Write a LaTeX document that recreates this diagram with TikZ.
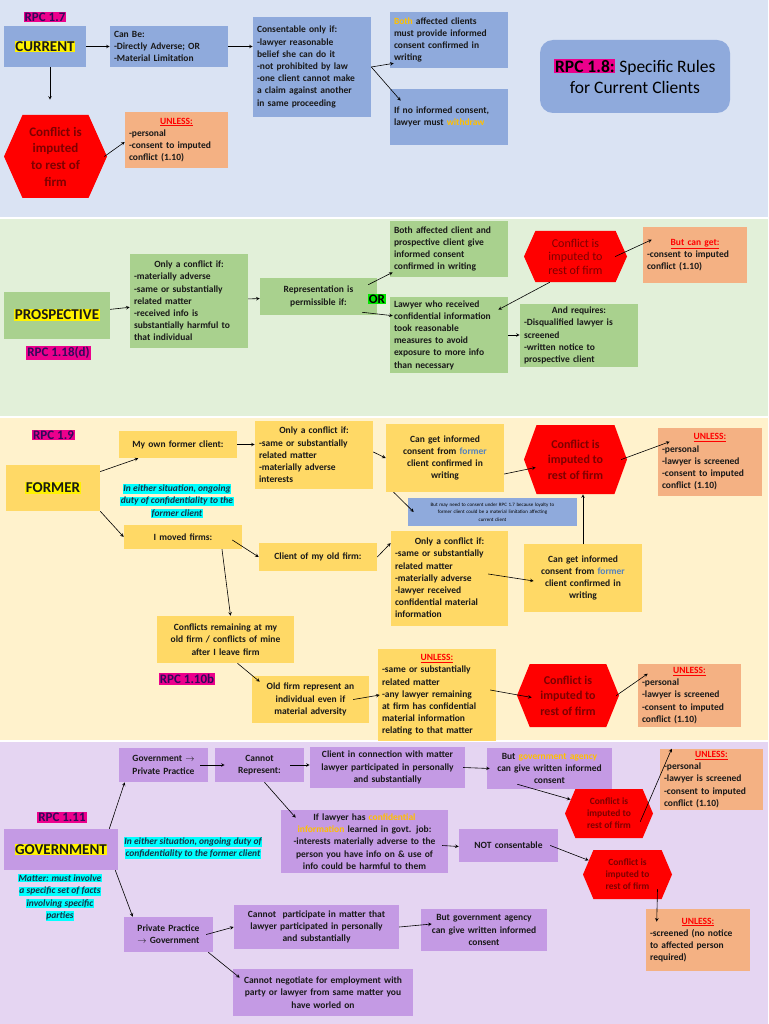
\documentclass[tikz,border=0pt]{standalone}
\usepackage{fontspec}
\setmainfont{Carlito}
\usetikzlibrary{shapes.symbols}
\definecolor{curbg}{RGB}{218,227,243}
\definecolor{curbox}{RGB}{143,170,220}
\definecolor{probg}{RGB}{226,240,217}
\definecolor{probox}{RGB}{169,209,142}
\definecolor{frmbg}{RGB}{255,242,204}
\definecolor{frmbox}{RGB}{255,217,102}
\definecolor{govbg}{RGB}{229,213,242}
\definecolor{govbox}{RGB}{196,154,228}
\definecolor{unlbox}{RGB}{244,177,131}
\definecolor{hexred}{RGB}{125,0,0}
\definecolor{rpcink}{RGB}{50,10,90}
\definecolor{gold}{RGB}{255,192,0}
\definecolor{formerblue}{RGB}{84,130,190}
\definecolor{notecyan}{RGB}{0,255,255}
\definecolor{noteink}{RGB}{20,50,70}
\definecolor{orgreen}{RGB}{0,230,0}
\newcommand\hlc[2]{{\setlength{\fboxsep}{0.6pt}\colorbox{#1}{#2}}}
\newcommand\ctr[1]{\hfill#1\hfill\null}
\newcommand\unl[1]{\textcolor{red}{\underline{#1}}}
\tikzset{
  box/.style={inner xsep=4pt, inner ysep=2pt, align=left, text=black!90,
    font=\bfseries\fontsize{9.5}{12.2}\selectfont},
  cur/.style={box, fill=curbox},
  pro/.style={box, fill=probox},
  frm/.style={box, fill=frmbox},
  gvt/.style={box, fill=govbox},
  unl/.style={box, fill=unlbox},
  hexa/.style={signal, signal to=east and west, signal pointer angle=132,
    fill=red, text=hexred, align=center, inner sep=0pt,
    font=\bfseries\fontsize{12}{15.5}\selectfont},
  rpc/.style={fill=magenta, inner xsep=1pt, inner ysep=1pt, text=rpcink,
    font=\bfseries\fontsize{13}{14}\selectfont},
  title/.style={font=\bfseries\fontsize{15}{16}\selectfont},
  note/.style={align=center, text=noteink, font=\bfseries\itshape\fontsize{9.5}{12.3}\selectfont}
}
\begin{document}
\begin{tikzpicture}[x=1pt, y=-1pt, >=stealth, line cap=round, semithick]
\useasboundingbox (0,0) rectangle (768,1024);
% section backgrounds
\fill[curbg] (0,0) rectangle (768,217);
\fill[probg] (0,219) rectangle (768,416);
\fill[frmbg] (0,418) rectangle (768,740);
\fill[govbg] (0,742) rectangle (768,1024);

% current clients
\node[rpc] (rpc17) at (45,17) {RPC 1.7};
\node[cur, title, align=center, minimum width=82pt, minimum height=41pt] (current) at (45,46.5) {\hlc{yellow}{CURRENT}};
\node[cur, text width=110pt, minimum height=41pt] (canbe) at (169,46.5) {Can Be:\\-Directly Adverse; OR\\-Material Limitation};
\node[cur, text width=110pt, minimum height=100pt] (consent) at (312,67) {Consentable only if:\\-lawyer reasonable\\belief she can do it\\-not prohibited by law\\-one client cannot make\\a claim against another\\in same proceeding};
\node[cur, text width=110pt, minimum height=56pt] (both) at (449,40) {\textcolor{gold}{Both} affected clients\\must provide informed\\consent confirmed in\\writing};
\node[cur, text width=110pt, minimum height=56pt] (noinf) at (449,117) {If no informed consent,\\lawyer must \textcolor{gold}{withdraw}};
\node[fill=curbox, rounded corners=13pt, align=center, minimum width=190pt, minimum height=73pt,
  font=\fontsize{17.5}{21.5}\selectfont] (rpc18) at (635,76.5) {\hlc{magenta}{\textbf{RPC 1.8:}} Specific Rules\\for Current Clients};
\node[hexa, font=\bfseries\fontsize{13}{16.7}\selectfont, minimum width=103pt, minimum height=83pt] (hexc) at (55.5,156.5) {Conflict is\\imputed\\to rest of\\firm};
\node[unl, text width=95pt, minimum height=56pt] (unlc) at (176.5,140) {\ctr{\unl{UNLESS:}}\\-personal\\-consent to imputed\\conflict (1.10)};

\draw[->] (current.east) -- (canbe.west);
\draw[->] (canbe.east) -- (canbe.east -| consent.west);
\draw[->] (consent.east) -- ([xshift=4pt,yshift=5pt]both.south west);
\draw[->] (consent.east) -- ([xshift=11pt,yshift=-12pt]noinf.north west);
\draw[->, shorten >=15pt] ([xshift=5pt]current.south) -- ([xshift=5pt]current.south |- hexc.north);
\draw[->] ([xshift=-3pt]hexc.east) -- ([yshift=-2pt]unlc.west);

% prospective clients
\node[pro, title, align=center, minimum width=106pt, minimum height=47pt] (prosp) at (57,315) {\hlc{yellow}{PROSPECTIVE}};
\node[rpc] (rpc118) at (58.5,353) {RPC 1.18(d)};
\node[pro, text width=110pt, minimum height=94pt] (ponly) at (189,301) {\ctr{Only a conflict if:}\\-materially adverse\\-same or substantially\\related matter\\-received info is\\substantially harmful to\\that individual};
\node[pro, align=center, text width=109pt, minimum height=37pt] (repr) at (318.5,296.5) {Representation is\\permissible if:};
\node[fill=orgreen, inner sep=1pt, font=\bfseries\fontsize{13}{14}\selectfont] (or) at (377,299) {OR};
\node[pro, text width=110pt, minimum height=56pt] (pboth) at (449,249) {Both affected client and\\prospective client give\\informed consent\\confirmed in writing};
\node[pro, text width=110pt, minimum height=76pt] (plaw) at (449,335) {Lawyer who received\\confidential information\\took reasonable\\measures to avoid\\exposure to more info\\than necessary};
\node[hexa, font=\fontsize{12}{13.5}\selectfont, minimum width=103pt, minimum height=51pt] (phex) at (575.5,256.5) {Conflict is\\imputed to\\rest of firm};
\node[unl, text width=96pt, minimum height=56pt] (pcan) at (695,255) {\ctr{\unl{But can get:}}\\-consent to imputed\\conflict (1.10)};
\node[pro, text width=110pt, minimum height=63pt] (preq) at (579,335.5) {\ctr{And requires:}\\-Disqualified lawyer is\\screened\\-written notice to\\prospective client};

\draw[->] (prosp) -- (ponly);
\draw[->] (ponly) -- (repr);
\draw[->] ([xshift=-9pt,yshift=-7pt]repr.north east) -- ([xshift=3pt,yshift=5pt]pboth.south west);
\draw[->] ([xshift=-15pt,yshift=3pt]repr.south east) -- ([xshift=3pt,yshift=-19pt]plaw.north west);
\draw[->] (phex.-135) -- ([xshift=-10pt,yshift=-13pt]plaw.north east);
\draw[->] ([xshift=-12pt]phex.east) -- ([xshift=9pt,yshift=-13pt]pcan.north west);
\draw[->] (plaw.east) -- (plaw.east -| preq.west);

% former clients
\node[rpc] (rpc19) at (53.5,435) {RPC 1.9};
\node[frm, title, align=center, minimum width=94pt, minimum height=46pt] (former) at (53,488) {\hlc{yellow}{FORMER}};
\node[frm, align=center, text width=110pt, minimum height=27pt] (fown) at (178,444.5) {My own former client:};
\node[note] (fnote) at (177,501) {\hlc{notecyan}{In either situation, ongoing}\\\hlc{notecyan}{duty of confidentiality to the}\\\hlc{notecyan}{former client}};
\node[frm, align=center, text width=110pt, minimum height=24pt] (fmoved) at (183,537) {I moved firms:};
\node[frm, text width=110pt, minimum height=68pt] (fonly) at (314,455) {\ctr{Only a conflict if:}\\-same or substantially\\related matter\\-materially adverse\\interests};
\node[frm, align=center, text width=110pt, minimum height=28pt] (fold) at (318,557) {Client of my old firm:};
\node[frm, align=center, text width=110pt, minimum height=68pt] (fcan1) at (445,458) {Can get informed\\consent from \textcolor{formerblue}{former}\\client confirmed in\\writing};
\node[fill=curbox, align=center, text width=165pt, minimum height=28pt, inner sep=2pt,
  font=\fontsize{5}{7.5}\selectfont] (fblue) at (492.5,512) {But may need to consent under RPC 1.7 because loyalty to\\former client could be a material limitation affecting\\current client};
\node[hexa, signal pointer angle=140, minimum width=103pt, minimum height=69pt] (fhex) at (575.5,459.5) {Conflict is\\imputed to\\rest of firm};
\node[unl, text width=96pt, minimum height=68pt] (funl1) at (710,462) {\ctr{\unl{UNLESS:}}\\-personal\\-lawyer is screened\\-consent to imputed\\conflict (1.10)};
\node[frm, text width=109pt, minimum height=95pt] (fonly2) at (449.5,578) {\ctr{Only a conflict if:}\\-same or substantially\\related matter\\-materially adverse\\-lawyer received\\confidential material\\information};
\node[frm, align=center, text width=110pt, minimum height=68pt] (fcan2) at (583,578) {Can get informed\\consent from \textcolor{formerblue}{former}\\client confirmed in\\writing};
\node[frm, align=center, text width=129pt, minimum height=47pt] (fremain) at (225.5,639.5) {Conflicts remaining at my\\old firm / conflicts of mine\\after I leave firm};
\node[rpc] (rpc110b) at (187,679) {RPC 1.10b};
\node[frm, align=center, text width=109pt, minimum height=47pt] (foldrep) at (310.5,699.5) {Old firm represent an\\individual even if\\material adversity};
\node[frm, text width=110pt, minimum height=92pt] (funl2) at (437,695) {\ctr{\unl{UNLESS:}}\\-same or substantially\\related matter\\-any lawyer remaining\\at firm has confidential\\material information\\relating to that matter};
\node[hexa, signal pointer angle=136, minimum width=102pt, minimum height=63pt] (fhex2) at (568,695.5) {Conflict is\\imputed to\\rest of firm};
\node[unl, text width=95pt, minimum height=63pt] (funl3) at (689.5,695.5) {\ctr{\unl{UNLESS:}}\\-personal\\-lawyer is screened\\-consent to imputed\\conflict (1.10)};

\draw[->] (former) -- (fown);
\draw[->] (former.south east) -- (fmoved.west);
\draw[->] (fown.east) -- (fown.east -| fonly.west);
\draw[->] ([yshift=3pt]fonly.east) -- (fcan1.west);
\draw[->] ([yshift=-16pt]fcan1.east) -- ([xshift=12pt,yshift=-8pt]fhex.west);
\draw[->] ([xshift=8pt]fcan1.south west) -- ([xshift=6pt]fblue.west);
\draw[->] ([xshift=-6pt]fhex.east) -- ([xshift=12pt,yshift=-14pt]funl1.north west);
\draw[->] ([xshift=-10pt,yshift=-3pt]fmoved.east) -- (fold.west);
\draw[->] (fold.east) -- ([yshift=35pt]fonly2.west);
\draw[->] ([xshift=-20pt,yshift=4pt]fonly2.east) -- ([xshift=10pt,yshift=-3pt]fcan2.west);
\draw[->] (fcan2.north) -- (fcan2.north |- fhex.south);
\draw[->] ([xshift=39pt]fmoved.south) -- ([xshift=5pt]fremain.north);
\draw[->] ([xshift=12pt]fremain.south) -- ([xshift=8pt,yshift=-6pt]foldrep.north west);
\draw[->] ([xshift=-16pt]foldrep.east) -- ([xshift=2pt]funl2.west);
\draw[->] ([xshift=-6pt,yshift=5pt]funl2.east) -- ([xshift=15pt,yshift=-2pt]fhex2.west);
\draw[->] ([xshift=-3pt]fhex2.east) -- ([xshift=10pt,yshift=-10pt]funl3.north west);

% government
\node[rpc] (rpc111) at (62,817.5) {RPC 1.11};
\node[gvt, title, align=center, minimum width=114pt, minimum height=41pt] (gov) at (61,849.5) {\hlc{yellow}{GOVERNMENT}};
\node[note] (gmatter) at (60,897.5) {\hlc{notecyan}{Matter: must involve}\\\hlc{notecyan}{a specific set of facts}\\\hlc{notecyan}{involving specific}\\\hlc{notecyan}{parties}};
\node[note] (gnote) at (193,848) {\hlc{notecyan}{In either situation, ongoing duty of}\\\hlc{notecyan}{confidentiality to the former client}};
\node[gvt, align=center, text width=81pt, minimum height=34pt] (ggp) at (163.5,765) {Government $\rightarrow$\\Private Practice};
\node[gvt, align=center, text width=81pt, minimum height=34pt] (gcr) at (259.5,765) {Cannot\\Represent:};
\node[gvt, align=center, text width=147pt, minimum height=41pt] (gcli) at (387.5,767.5) {Client in connection with matter\\lawyer participated in personally\\and substantially};
\node[gvt, align=center, text width=117pt, minimum height=41pt] (gbut1) at (549.5,768.5) {But \textcolor{gold}{government agency}\\can give written informed\\consent};
\node[unl, text width=95pt, minimum height=61pt] (gunl1) at (711.5,779.5) {\ctr{\unl{UNLESS:}}\\-personal\\-lawyer is screened\\-consent to imputed\\conflict (1.10)};
\node[hexa, signal pointer angle=134, font=\bfseries\fontsize{9.5}{12}\selectfont, minimum width=88pt, minimum height=49pt] (ghex1) at (609,813.5) {Conflict is\\imputed to\\rest of firm};
\node[gvt, align=center, text width=159pt, minimum height=63pt] (gif) at (364.5,841.5) {If lawyer has \textcolor{gold}{confidential}\\\textcolor{gold}{information} learned in govt. job:\\-interests materially adverse to the\\person you have info on \& use of\\info could be harmful to them};
\node[gvt, align=center, text width=91pt, minimum height=33pt] (gnot) at (508.5,845.5) {NOT consentable};
\node[hexa, signal pointer angle=134, font=\bfseries\fontsize{9.5}{12}\selectfont, minimum width=89pt, minimum height=49pt] (ghex2) at (627.5,874.5) {Conflict is\\imputed to\\rest of firm};
\node[unl, text width=96pt, minimum height=62pt] (gunl2) at (698,940) {\ctr{\unl{UNLESS:}}\\-screened (no notice\\to affected person\\required)};
\node[gvt, align=center, text width=81pt, minimum height=35pt] (gpg) at (168.5,934.5) {Private Practice\\$\rightarrow$ Government};
\node[gvt, align=center, text width=157pt, minimum height=44pt] (gpart) at (316.5,927) {Cannot\ \ participate in matter that\\lawyer participated in personally\\and substantially};
\node[gvt, align=center, text width=118pt, minimum height=42pt] (gbut2) at (484,930) {But government agency\\can give written informed\\consent};
\node[gvt, align=center, text width=172pt, minimum height=47pt] (gneg) at (323,992.5) {Cannot negotiate for employment with\\party or lawyer from same matter you\\have worled on};

\draw[->] ([xshift=-9pt]gov.north east) -- ([xshift=6pt]ggp.south west);
\draw[->] ([xshift=-3pt]gov.south east) -- ([xshift=9pt]gpg.north west);
\draw[->] ([xshift=-8pt]ggp.east) -- ([xshift=10pt]gcr.west);
\draw[->] ([xshift=-14pt]gcr.east) -- (gcr.east -| gcli.west);
\draw[->] ([xshift=-2pt]gcli.east) -- ([xshift=3pt]gbut1.west);
\draw[->] ([xshift=5pt]gcr.south) -- ([xshift=15pt,yshift=-8pt]gif.north west);
\draw[->] ([xshift=-6pt,yshift=-4pt]gif.east) -- ([yshift=-1pt]gnot.west);
\draw[->] ([xshift=-32pt,yshift=5pt]gbut1.south) -- (ghex1.160);
\draw[->] ([xshift=-13pt,yshift=-8pt]ghex1.east) -- ([xshift=12pt]gunl1.north west);
\draw[->] ([xshift=-8pt]gnot.east) -- (ghex2.160);
\draw[->] ([xshift=30pt,yshift=10pt]ghex2.south) -- ([xshift=11pt,yshift=-13pt]gunl2.north west);
\draw[->] ([xshift=-7pt]gpg.east) -- (gpart.west);
\draw[->] (gpart.east) -- ([xshift=11pt,yshift=6pt]gbut2.west);
\draw[->] ([xshift=-5pt]gpg.south east) -- ([xshift=7pt,yshift=-9pt]gneg.north west);
\end{tikzpicture}
\end{document}
